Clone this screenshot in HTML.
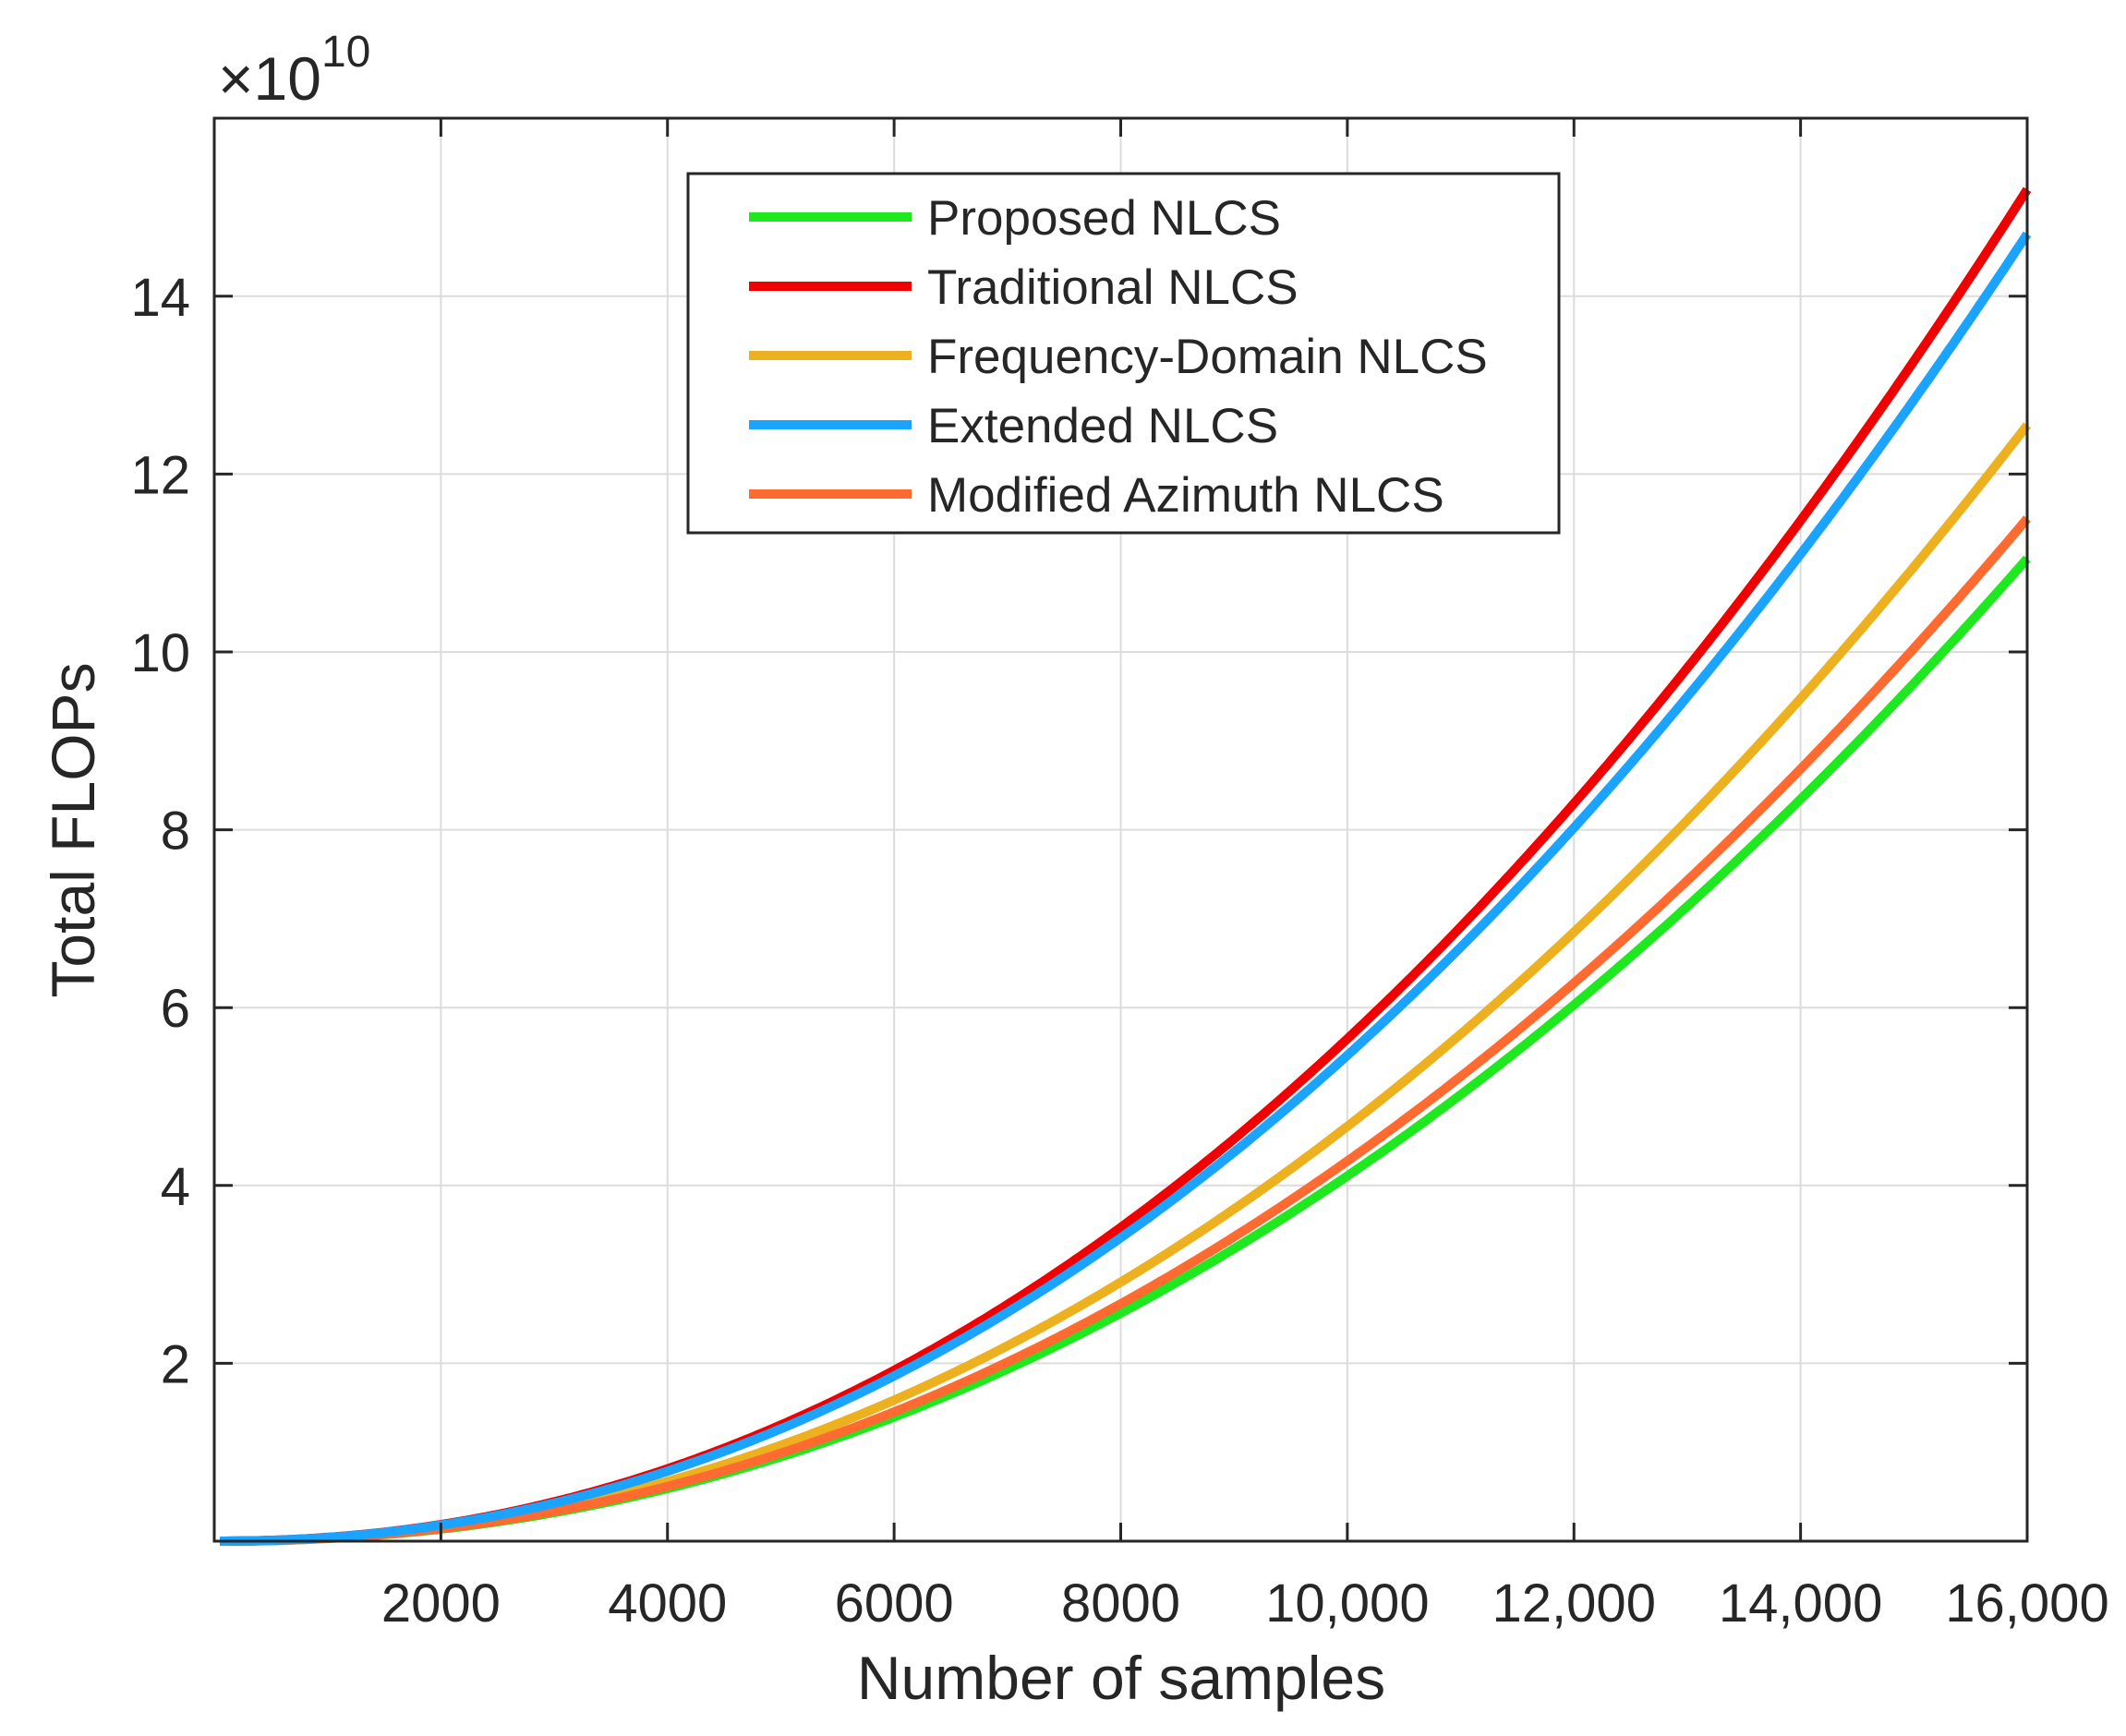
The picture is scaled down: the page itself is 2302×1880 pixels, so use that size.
<!DOCTYPE html>
<html><head><meta charset="utf-8"><style>
html,body{margin:0;padding:0;background:#fff;}
svg{display:block;font-family:"Liberation Sans",Arial,sans-serif;}
</style></head><body>
<svg id="s" width="2302" height="1880" viewBox="0 0 2302 1880" xmlns="http://www.w3.org/2000/svg">
<rect width="2302" height="1880" fill="#fff"/>
<g id="grid" stroke="#dcdcdc" stroke-width="2"></g>
<g id="curves" fill="none" stroke-width="10" stroke-linejoin="round"></g>
<g id="ticks" stroke="#262626" stroke-width="3"></g>
<rect x="232" y="128" width="1963" height="1541" fill="none" stroke="#262626" stroke-width="3"/>
<g id="labels" font-size="58" fill="#262626"></g>
<text x="236" y="108" font-size="66" fill="#262626">×10<tspan font-size="48" dy="-36">10</tspan></text>
<text x="1214" y="1840" font-size="66" fill="#262626" text-anchor="middle">Number of samples</text>
<text transform="translate(102,899) rotate(-90)" font-size="66" fill="#262626" text-anchor="middle">Total FLOPs</text>
<g>
<rect x="745" y="188" width="943" height="389" fill="#fff" stroke="#262626" stroke-width="3"/>
<g stroke-width="10">
<line x1="811" y1="235" x2="987" y2="235" stroke="#1ee81e"/>
<line x1="811" y1="310" x2="987" y2="310" stroke="#f00000"/>
<line x1="811" y1="385" x2="987" y2="385" stroke="#edb120"/>
<line x1="811" y1="460" x2="987" y2="460" stroke="#1aa3ff"/>
<line x1="811" y1="535" x2="987" y2="535" stroke="#ff6a30"/>
</g>
<g font-size="53" fill="#262626">
<text x="1004" y="254">Proposed NLCS</text>
<text x="1004" y="329">Traditional NLCS</text>
<text x="1004" y="404">Frequency-Domain NLCS</text>
<text x="1004" y="479">Extended NLCS</text>
<text x="1004" y="554">Modified Azimuth NLCS</text>
</g>
</g>
</svg>
<script>
var NS="http://www.w3.org/2000/svg";
function X(n){return 232+n/16000*1963;}
function Y(v){return 1669-v*96.3;}
function el(p,t,a,txt){var e=document.createElementNS(NS,t);for(var k in a)e.setAttribute(k,a[k]);if(txt)e.textContent=txt;document.getElementById(p).appendChild(e);}
for(var i=1;i<=7;i++){var x=X(i*2000);
 el("grid","line",{x1:x,y1:128,x2:x,y2:1669});
 el("ticks","line",{x1:x,y1:1669,x2:x,y2:1649});el("ticks","line",{x1:x,y1:128,x2:x,y2:148});}
var xl=["2000","4000","6000","8000","10,000","12,000","14,000","16,000"];
for(var i=1;i<=8;i++){el("labels","text",{x:X(i*2000),y:1756,"text-anchor":"middle"},xl[i-1]);}
for(var v=2;v<=14;v+=2){var y=Y(v);
 el("grid","line",{x1:232,y1:y,x2:2195,y2:y});
 el("ticks","line",{x1:232,y1:y,x2:252,y2:y});el("ticks","line",{x1:2195,y1:y,x2:2175,y2:y});
 el("labels","text",{x:206,y:y+21,"text-anchor":"end"},String(v));}
var series=[["#edb120",12.55],["#1ee81e",11.05],["#ff6a30",11.5],["#f00000",15.2],["#1aa3ff",14.7]];
var base=16000*16000*Math.log2(16000);
series.forEach(function(s){var d="";for(var n=50;n<=16000;n+=50){var v=s[1]*n*n*Math.log2(n)/base;d+=(d?"L":"M")+X(n).toFixed(1)+","+Y(v).toFixed(1);}
 el("curves","path",{d:d,stroke:s[0]});});
</script>
</body></html>
